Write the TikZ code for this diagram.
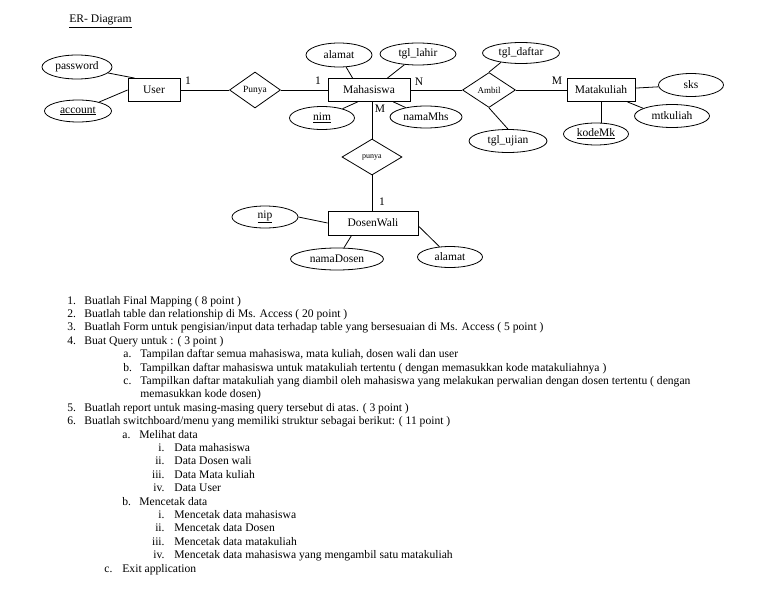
\documentclass[tikz,border=0pt]{standalone}
\usepackage{fontspec}
\setmainfont{Liberation Serif}
\usetikzlibrary{shapes.geometric,calc}
\begin{document}
\begin{tikzpicture}[x=1pt,y=-1pt,line width=0.8pt,
  ent/.style={draw,rectangle,inner sep=0pt,font=\fontsize{11.5}{12}\selectfont},
  attr/.style={draw,ellipse,inner sep=0pt,font=\fontsize{11.5}{12}\selectfont},
  rel/.style={draw,diamond,inner sep=0pt},
  card/.style={inner sep=0pt,font=\fontsize{11.5}{12}\selectfont},
  lt/.style={anchor=base west,inner sep=0pt,font=\fontsize{11.6}{13}\selectfont},
  lr/.style={anchor=base east,inner sep=0pt,font=\fontsize{11.6}{13}\selectfont}]
\useasboundingbox (0,0) rectangle (768,594);

\node[lt] (title) at (69,23) {\underline{ER- Diagram}};

% entities
\node[ent,minimum width=52pt,minimum height=23pt] (user) at (154,90) {User};
\node[ent,minimum width=82pt,minimum height=23pt] (maha) at (369,90) {Mahasiswa};
\node[ent,minimum width=68pt,minimum height=23pt] (mk) at (601,90) {Matakuliah};
\node[ent,minimum width=90pt,minimum height=24pt] (dw) at (373,223) {DosenWali};

% relationships
\node[rel,minimum width=51pt,minimum height=36pt,font=\fontsize{9.5}{10}\selectfont] (punya) at (255,90) {Punya};
\node[rel,minimum width=53pt,minimum height=35pt,font=\fontsize{9}{10}\selectfont] (ambil) at (489,90) {Ambil};
\node[rel,minimum width=60pt,minimum height=36pt,font=\fontsize{8}{9}\selectfont] (punya2) at (372,157) {punya};

% attributes
\node[attr,minimum width=70pt,minimum height=24pt] (pw) at (77,67) {password};
\node[attr,minimum width=67pt,minimum height=22pt] (acc) at (78,111) {\underline{account}};
\node[attr,minimum width=66pt,minimum height=24pt] (alm) at (339,55) {alamat};
\node[attr,minimum width=76pt,minimum height=22pt] (tgl) at (418,54) {tgl\_lahir};
\node[attr,minimum width=65pt,minimum height=23pt] (nim) at (322,118) {\underline{nim}};
\node[attr,minimum width=72pt,minimum height=22pt] (nm) at (426,117) {namaMhs};
\node[attr,minimum width=77pt,minimum height=21pt] (td) at (521,53) {tgl\_daftar};
\node[attr,minimum width=78pt,minimum height=23pt] (tu) at (508,141) {tgl\_ujian};
\node[attr,minimum width=65pt,minimum height=23pt] (sks) at (691,85) {sks};
\node[attr,minimum width=75pt,minimum height=23pt] (mt) at (672,116) {mtkuliah};
\node[attr,minimum width=65pt,minimum height=22pt] (kd) at (596,134) {\underline{kodeMk}};
\node[attr,minimum width=66pt,minimum height=22pt] (nip) at (265,217) {\underline{nip}};
\node[attr,minimum width=93pt,minimum height=22pt] (nd) at (337,259) {namaDosen};
\node[attr,minimum width=65pt,minimum height=21pt] (al2) at (450,257) {alamat};

% cardinalities
\node[card] (c1) at (188,81) {1};
\node[card] (c2) at (318,81) {1};
\node[card] (c3) at (419,82) {N};
\node[card] (c4) at (557,81) {M};
\node[card] (c5) at (380,109) {M};
\node[card] (c6) at (382,202) {1};

% relationship lines
\draw (user.east) -- (punya.west);
\draw (punya.east) -- (maha.west);
\draw (maha.east) -- (ambil.west);
\draw (ambil.east) -- (mk.west);
\draw (punya2.north) -- (punya2.north |- maha.south);
\draw (punya2.south) -- (punya2.south |- dw.north);

% attribute lines
\draw (pw) -- ($(user.north west)+(7,0)$);
\draw (acc) -- (user.west);
\draw (alm) -- ($(maha.north west)+(25,0)$);
\draw (tgl) -- ($(maha.north east)+(-23,0)$);
\draw (nim) -- ($(maha.south west)+(30,0)$);
\draw (nm) -- ($(maha.south east)+(-17,0)$);
\draw (ambil.north) -- (td.205);
\draw (ambil.south) -- (tu.north);
\draw (mk) -- (sks);
\draw ($(mk.south east)+(-8,0)$) -- (mt.165);
\draw (mk.south) -- (mk.south |- kd.north);
\draw (nip.east) -- (dw.west);
\draw (nd) -- ($(dw.south west)+(24,0)$);
\draw (al2) -- ($(dw.east)+(0,3)$);

% list
\node[lt] (n1) at (67,304.0) {1.};
\node[lt] (l1) at (84,304.0) {Buatlah Final Mapping ( 8 point )};
\node[lt] (n2) at (67,317.4) {2.};
\node[lt] (l2) at (84,317.4) {Buatlah table dan relationship di Ms. Access ( 20 point )};
\node[lt] (n3) at (67,330.8) {3.};
\node[lt] (l3) at (84,330.8) {Buatlah Form untuk pengisian/input data terhadap table yang bersesuaian di Ms. Access ( 5 point )};
\node[lt] (n4) at (67,344.2) {4.};
\node[lt] (l4) at (84,344.2) {Buat Query untuk : ( 3 point )};
\node[lt] (n4a) at (123,357.6) {a.};
\node[lt] (l4a) at (140,357.6) {Tampilan daftar semua mahasiswa, mata kuliah, dosen wali dan user};
\node[lt] (n4b) at (123,371.0) {b.};
\node[lt] (l4b) at (140,371.0) {Tampilkan daftar mahasiswa untuk matakuliah tertentu ( dengan memasukkan kode matakuliahnya )};
\node[lt] (n4c) at (123,384.4) {c.};
\node[lt] (l4c) at (140,384.4) {Tampilkan daftar matakuliah yang diambil oleh mahasiswa yang melakukan perwalian dengan dosen tertentu ( dengan};
\node[lt] (l4c2) at (140,397.8) {memasukkan kode dosen)};
\node[lt] (n5) at (67,411.2) {5.};
\node[lt] (l5) at (84,411.2) {Buatlah report untuk masing-masing query tersebut di atas. ( 3 point )};
\node[lt] (n6) at (67,424.6) {6.};
\node[lt] (l6) at (84,424.6) {Buatlah switchboard/menu yang memiliki struktur sebagai berikut: ( 11 point )};
\node[lt] (n6a) at (122,438.0) {a.};
\node[lt] (l6a) at (139,438.0) {Melihat data};
\node[lr] (n6a1) at (165,451.4) {i.};
\node[lt] (l6a1) at (174,451.4) {Data mahasiswa};
\node[lr] (n6a2) at (165,464.8) {ii.};
\node[lt] (l6a2) at (174,464.8) {Data Dosen wali};
\node[lr] (n6a3) at (165,478.2) {iii.};
\node[lt] (l6a3) at (174,478.2) {Data Mata kuliah};
\node[lr] (n6a4) at (165,491.6) {iv.};
\node[lt] (l6a4) at (174,491.6) {Data User};
\node[lt] (n6b) at (122,505.0) {b.};
\node[lt] (l6b) at (139,505.0) {Mencetak data};
\node[lr] (n6b1) at (165,518.4) {i.};
\node[lt] (l6b1) at (174,518.4) {Mencetak data mahasiswa};
\node[lr] (n6b2) at (165,531.8) {ii.};
\node[lt] (l6b2) at (174,531.8) {Mencetak data Dosen};
\node[lr] (n6b3) at (165,545.2) {iii.};
\node[lt] (l6b3) at (174,545.2) {Mencetak data matakuliah};
\node[lr] (n6b4) at (165,558.6) {iv.};
\node[lt] (l6b4) at (174,558.6) {Mencetak data mahasiswa yang mengambil satu matakuliah};
\node[lt] (n6c) at (104,572.0) {c.};
\node[lt] (l6c) at (122,572.0) {Exit application};
\end{tikzpicture}
\end{document}
